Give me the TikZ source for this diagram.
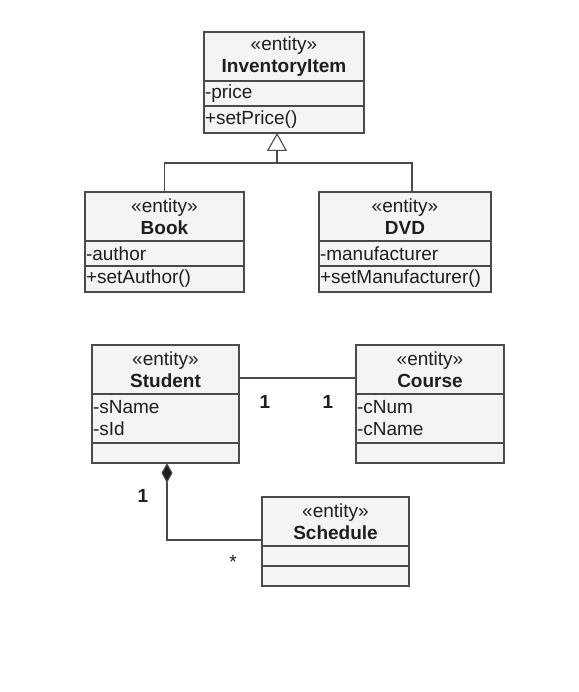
\documentclass[tikz,border=0pt]{standalone}
\usepackage{fontspec}
\newfontfamily\umlfont{Liberation Sans}
\usetikzlibrary{arrows.meta}
\definecolor{linegray}{HTML}{4A4A4A}
\definecolor{boxfill}{HTML}{F4F4F4}
\definecolor{txt}{HTML}{1E1E1E}
\tikzset{
  cls/.style={draw=linegray, fill=boxfill, line width=1.1pt, inner sep=0pt, outer sep=0pt, anchor=north west,
    text=txt, font={\umlfont\fontsize{19}{22}\selectfont}},
  hdr/.style={cls, align=center},
  cmp/.style={cls, align=left, inner xsep=1pt},
  conn/.style={draw=linegray, line width=1.1pt},
  lbl/.style={text=txt, font={\umlfont\fontsize{19}{22}\selectfont\bfseries}, inner sep=0pt}
}
\begin{document}
\begin{tikzpicture}[x=1pt,y=-1pt]
\useasboundingbox[fill=white] (0,0) rectangle (578,692);
% InventoryItem
\node[hdr, minimum width=160pt, minimum height=49pt] (invh) at (204,32) {«entity»\\\textbf{InventoryItem}};
\node[cmp, text width=158pt, minimum height=25pt] (inva) at (invh.south west) {-price};
\node[cmp, text width=158pt, minimum height=27pt] (invm) at (inva.south west) {+setPrice()};
% Book
\node[hdr, minimum width=159pt, minimum height=49pt] (bookh) at (85,192) {«entity»\\\textbf{Book}};
\node[cmp, text width=157pt, minimum height=25pt] (booka) at (bookh.south west) {-author};
\node[cmp, text width=157pt, minimum height=26pt] (bookm) at (booka.south west) {+setAuthor()};
% DVD
\node[hdr, minimum width=172pt, minimum height=49pt] (dvdh) at (319,192) {«entity»\\\textbf{DVD}};
\node[cmp, text width=170pt, minimum height=25pt] (dvda) at (dvdh.south west) {-manufacturer};
\node[cmp, text width=170pt, minimum height=26pt] (dvdm) at (dvda.south west) {+setManufacturer()};
% Student
\node[hdr, minimum width=147pt, minimum height=49pt] (stuh) at (92,345) {«entity»\\\textbf{Student}};
\node[cmp, text width=145pt, minimum height=49pt] (stua) at (stuh.south west) {-sName\\-sId};
\node[cmp, text width=145pt, minimum height=20pt] (stum) at (stua.south west) {};
% Course
\node[hdr, minimum width=148pt, minimum height=49pt] (couh) at (356,345) {«entity»\\\textbf{Course}};
\node[cmp, text width=146pt, minimum height=49pt] (coua) at (couh.south west) {-cNum\\-cName};
\node[cmp, text width=146pt, minimum height=20pt] (coum) at (coua.south west) {};
% Schedule
\node[hdr, minimum width=147pt, minimum height=49pt] (schh) at (262,497) {«entity»\\\textbf{Schedule}};
\node[cmp, text width=145pt, minimum height=20pt] (scha) at (schh.south west) {};
\node[cmp, text width=145pt, minimum height=20pt] (schm) at (scha.south west) {};
% Generalization
\coordinate (gen) at (277,163);
\draw[conn, -{Triangle[open, length=18pt, width=20pt, line width=1.1pt]}] (gen) -- (gen |- invm.south);
\draw[conn] (bookh.north) |- (gen) -| ([xshift=7pt]dvdh.north);
% Association
\draw[conn] ([yshift=-8.5pt]stuh.east) -- ([yshift=-8.5pt]couh.west);
\node[lbl] (m1) at (265,402) {1};
\node[lbl] (m2) at (328,402) {1};
% Composition
\draw[conn, {Diamond[length=20pt, width=11pt, fill=txt]}-] ([xshift=1.5pt]stum.south) |- ([yshift=-18.5pt]schh.west);
\node[lbl] (m3) at (143,496) {1};
\node[lbl, font={\umlfont\fontsize{19}{22}\selectfont}] (m4) at (233,562) {*};
\end{tikzpicture}
\end{document}
